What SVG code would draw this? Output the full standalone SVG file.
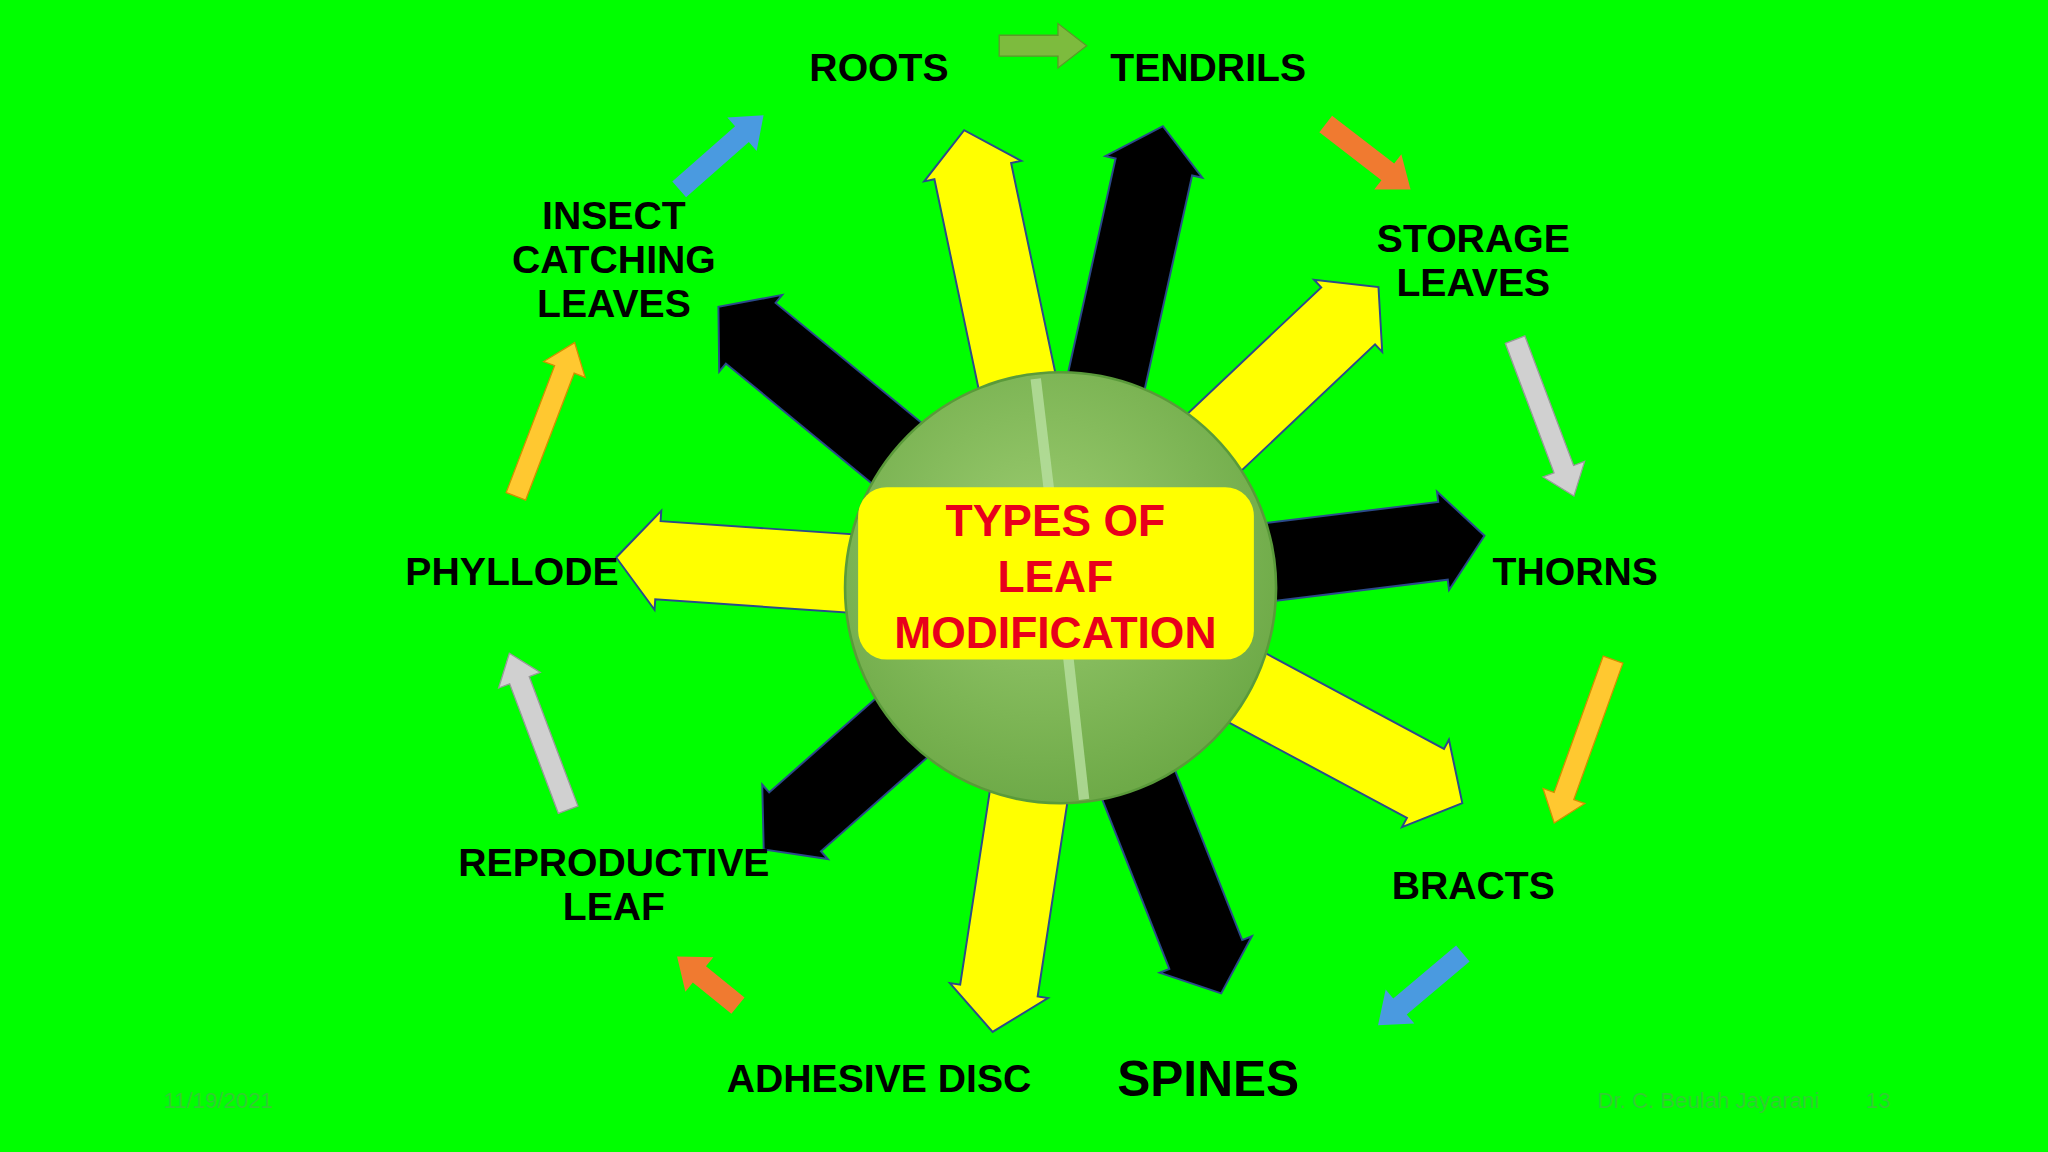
<svg xmlns="http://www.w3.org/2000/svg" width="2048" height="1152" viewBox="0 0 2048 1152">
<defs>
<style>
.lb{font-family:"Liberation Sans",Arial,sans-serif;font-weight:bold;font-size:30px;fill:#000;text-anchor:middle}
.ct{font-family:"Liberation Sans",Arial,sans-serif;font-weight:bold;font-size:34px;fill:#e8001c;text-anchor:middle}
.ft{font-family:"Liberation Sans",Arial,sans-serif;font-size:17px;fill:#33cc33;text-anchor:middle}
.y{fill:#ffff00;stroke:#2a4a8a;stroke-width:1.5}
.k{fill:#000;stroke:#2a4a8a;stroke-width:1.5}
</style>
<radialGradient id="disc" cx="0.45" cy="0.4" r="0.6">
<stop offset="0" stop-color="#9ccc70"/><stop offset="1" stop-color="#6eaa48"/>
</radialGradient>
</defs>
<rect width="2048" height="1152" fill="#00ff00"/>
<g transform="scale(1.30612)">
<g id="connectors">
<g transform="translate(765,35)"><path d="M0,-8 L45,-8 L45,-17 L67,0 L45,17 L45,8 L0,8Z" fill="#7dbb3e" stroke="#5a9a2a"/></g>
<g transform="translate(1015,95) rotate(37.6)"><path d="M0,-8 L60,-8 L60,-17 L82,0 L60,17 L60,8 L0,8Z" fill="#f07a30"/></g>
<g transform="translate(1160,260) rotate(69.4)"><path d="M0,-8 L106,-8 L106,-17 L128,0 L106,17 L106,8 L0,8Z" fill="#d0d0d0" stroke="#999"/></g>
<g transform="translate(1235,505) rotate(109.8)"><path d="M0,-8 L111,-8 L111,-17 L133,0 L111,17 L111,8 L0,8Z" fill="#ffc830" stroke="#d09000"/></g>
<g transform="translate(1120,730) rotate(139.8)"><path d="M0,-8 L63,-8 L63,-17 L85,0 L63,17 L63,8 L0,8Z" fill="#4a9ae0"/></g>
<g transform="translate(565,770) rotate(-141)"><path d="M0,-8 L38,-8 L38,-17 L60,0 L38,17 L38,8 L0,8Z" fill="#f07a30"/></g>
<g transform="translate(435,620) rotate(-110.6)"><path d="M0,-8 L106,-8 L106,-17 L128,0 L106,17 L106,8 L0,8Z" fill="#d0d0d0" stroke="#999"/></g>
<g transform="translate(395,380) rotate(-69.1)"><path d="M0,-8 L104,-8 L104,-17 L126,0 L104,17 L104,8 L0,8Z" fill="#ffc830" stroke="#d09000"/></g>
<g transform="translate(520,145) rotate(-41.3)"><path d="M0,-8 L64,-8 L64,-17 L86,0 L64,17 L64,8 L0,8Z" fill="#4a9ae0"/></g>
</g>
<g id="spokes" transform="translate(812,450)">
<path class="y" transform="rotate(-176.1)" d="M0,-30 L309,-30 L309,-38 L341,0 L309,38 L309,30 L0,30Z"/>
<path class="k" transform="rotate(-140.6)" d="M0,-30 L307,-30 L307,-38 L339,0 L307,38 L307,30 L0,30Z"/>
<path class="y" transform="rotate(-101.9)" d="M0,-30 L326,-30 L326,-38 L358,0 L326,38 L326,30 L0,30Z"/>
<path class="k" transform="rotate(-77.5)" d="M0,-30 L330,-30 L330,-38 L362,0 L330,38 L330,30 L0,30Z"/>
<path class="y" transform="rotate(-43.4)" d="M0,-30 L303,-30 L303,-38 L335,0 L303,38 L303,30 L0,30Z"/>
<path class="k" transform="rotate(-7)" d="M0,-30 L295,-30 L295,-38 L327,0 L295,38 L295,30 L0,30Z"/>
<path class="y" transform="rotate(28.2)" d="M0,-30 L317,-30 L317,-38 L349,0 L317,38 L317,30 L0,30Z"/>
<path class="k" transform="rotate(68.4)" d="M0,-30 L302,-30 L302,-38 L334,0 L302,38 L302,30 L0,30Z"/>
<path class="y" transform="rotate(98.7)" d="M0,-30 L312,-30 L312,-38 L344,0 L312,38 L312,30 L0,30Z"/>
<path class="k" transform="rotate(138.6)" d="M0,-30 L271,-30 L271,-38 L303,0 L271,38 L271,30 L0,30Z"/>
</g>
<g id="center">
<circle cx="812" cy="450" r="165" fill="url(#disc)" stroke="#5a9a3a" stroke-width="2"/>
<path d="M793,290 L812,450 L830,612" stroke="#b8e0a0" stroke-width="8" fill="none" opacity="0.8"/>
<rect x="657" y="373" width="303" height="132" rx="22" fill="#ffff00"/>
<text class="ct" x="808" y="410">TYPES OF</text>
<text class="ct" x="808" y="453">LEAF</text>
<text class="ct" x="808" y="496">MODIFICATION</text>
</g>
<g id="n-roots"><text class="lb" x="673" y="62">ROOTS</text></g>
<g id="n-tendrils"><text class="lb" x="925" y="62">TENDRILS</text></g>
<g id="n-storage"><text class="lb" x="1128" y="193">STORAGE</text><text class="lb" x="1128" y="227">LEAVES</text></g>
<g id="n-thorns"><text class="lb" x="1206" y="448">THORNS</text></g>
<g id="n-bracts"><text class="lb" x="1128" y="688">BRACTS</text></g>
<g id="n-spines"><text class="lb" x="925" y="839" style="font-size:38px">SPINES</text></g>
<g id="n-adhesive"><text class="lb" x="673" y="836">ADHESIVE DISC</text></g>
<g id="n-repro"><text class="lb" x="470" y="671">REPRODUCTIVE</text><text class="lb" x="470" y="704">LEAF</text></g>
<g id="n-phyllode"><text class="lb" x="392" y="448">PHYLLODE</text></g>
<g id="n-insect"><text class="lb" x="470" y="175">INSECT</text><text class="lb" x="470" y="209">CATCHING</text><text class="lb" x="470" y="243">LEAVES</text></g>
<g id="footer">
<text class="ft" x="167" y="848">11/19/2021</text>
<text class="ft" x="1308" y="848">Dr. C. Beulah Jayarani</text>
<text class="ft" x="1438" y="848">13</text>
</g>
</g>
</svg>
